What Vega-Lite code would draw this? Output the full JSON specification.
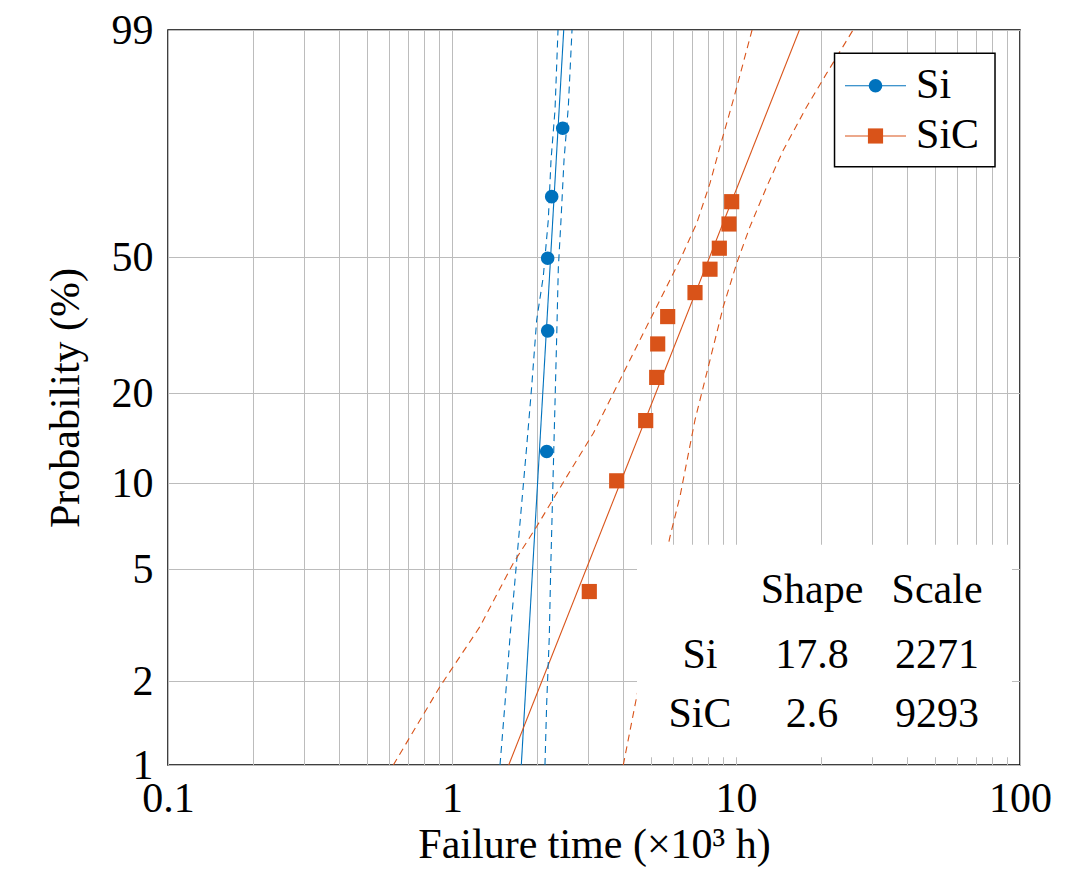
{
  "$schema": "https://vega.github.io/schema/vega-lite/v6.json",
  "width": 852,
  "height": 735,
  "autosize": {"type": "none"},
  "padding": {"left": 168, "top": 30, "right": 60, "bottom": 122},
  "background": "white",
  "config": {
    "view": {"stroke": "#000", "strokeWidth": 1.5},
    "font": "'Liberation Serif', 'DejaVu Serif', serif",
    "text": {"font": "'Liberation Serif', 'DejaVu Serif', serif"},
    "axis": {
      "labelFont": "'Liberation Serif', 'DejaVu Serif', serif",
      "titleFont": "'Liberation Serif', 'DejaVu Serif', serif",
      "labelFontSize": 42,
      "titleFontSize": 42,
      "labelColor": "#000",
      "titleColor": "#000",
      "titleFontWeight": "normal",
      "gridColor": "#bcbcbc",
      "gridWidth": 1,
      "ticks": false,
      "domain": false,
      "labelOverlap": false,
      "labelFlush": false,
      "labelBound": false
    }
  },
  "datasets": {
    "points": [
      {"series": "Si", "t": 2.155, "w": -1.987},
      {"series": "Si", "t": 2.172, "w": -0.981},
      {"series": "Si", "t": 2.172, "w": -0.376},
      {"series": "Si", "t": 2.244, "w": 0.138},
      {"series": "Si", "t": 2.454, "w": 0.708},
      {"series": "SiC", "t": 3.044, "w": -3.154},
      {"series": "SiC", "t": 3.801, "w": -2.231},
      {"series": "SiC", "t": 4.809, "w": -1.729},
      {"series": "SiC", "t": 5.257, "w": -1.369},
      {"series": "SiC", "t": 5.300, "w": -1.090},
      {"series": "SiC", "t": 5.747, "w": -0.862},
      {"series": "SiC", "t": 7.172, "w": -0.662},
      {"series": "SiC", "t": 8.099, "w": -0.467},
      {"series": "SiC", "t": 8.735, "w": -0.292},
      {"series": "SiC", "t": 9.447, "w": -0.090},
      {"series": "SiC", "t": 9.656, "w": 0.096}
    ],
    "fit": [
      {"series": "Si", "t": 1.754, "w": -4.60015},
      {"series": "Si", "t": 2.474, "w": 1.52718},
      {"series": "SiC", "t": 1.584, "w": -4.60015},
      {"series": "SiC", "t": 16.72, "w": 1.52718}
    ],
    "bounds": [
      {"series": "Si", "bound": "lower", "t": 1.476, "w": -4.60015},
      {"series": "Si", "bound": "lower", "t": 1.537, "w": -4.084},
      {"series": "Si", "bound": "lower", "t": 1.601, "w": -3.529},
      {"series": "Si", "bound": "lower", "t": 1.667, "w": -3.056},
      {"series": "Si", "bound": "lower", "t": 1.760, "w": -2.417},
      {"series": "Si", "bound": "lower", "t": 1.832, "w": -1.946},
      {"series": "Si", "bound": "lower", "t": 1.908, "w": -1.446},
      {"series": "Si", "bound": "lower", "t": 1.987, "w": -0.890},
      {"series": "Si", "bound": "lower", "t": 2.096, "w": -0.529},
      {"series": "Si", "bound": "lower", "t": 2.183, "w": -0.056},
      {"series": "Si", "bound": "lower", "t": 2.232, "w": 0.444},
      {"series": "Si", "bound": "lower", "t": 2.305, "w": 0.860},
      {"series": "Si", "bound": "lower", "t": 2.362, "w": 1.52718},
      {"series": "Si", "bound": "upper", "t": 2.125, "w": -4.60015},
      {"series": "Si", "bound": "upper", "t": 2.155, "w": -4.084},
      {"series": "Si", "bound": "upper", "t": 2.201, "w": -3.529},
      {"series": "Si", "bound": "upper", "t": 2.226, "w": -2.973},
      {"series": "Si", "bound": "upper", "t": 2.273, "w": -2.140},
      {"series": "Si", "bound": "upper", "t": 2.305, "w": -1.584},
      {"series": "Si", "bound": "upper", "t": 2.337, "w": -1.029},
      {"series": "Si", "bound": "upper", "t": 2.368, "w": -0.456},
      {"series": "Si", "bound": "upper", "t": 2.420, "w": -0.056},
      {"series": "Si", "bound": "upper", "t": 2.480, "w": 0.444},
      {"series": "Si", "bound": "upper", "t": 2.568, "w": 0.888},
      {"series": "Si", "bound": "upper", "t": 2.646, "w": 1.52718},
      {"series": "SiC", "bound": "lower", "t": 0.6214, "w": -4.60015},
      {"series": "SiC", "bound": "lower", "t": 0.9073, "w": -3.946},
      {"series": "SiC", "bound": "lower", "t": 1.2546, "w": -3.446},
      {"series": "SiC", "bound": "lower", "t": 1.644, "w": -2.917},
      {"series": "SiC", "bound": "lower", "t": 1.987, "w": -2.612},
      {"series": "SiC", "bound": "lower", "t": 2.535, "w": -2.196},
      {"series": "SiC", "bound": "lower", "t": 3.145, "w": -1.834},
      {"series": "SiC", "bound": "lower", "t": 3.905, "w": -1.390},
      {"series": "SiC", "bound": "lower", "t": 4.592, "w": -1.056},
      {"series": "SiC", "bound": "lower", "t": 5.400, "w": -0.723},
      {"series": "SiC", "bound": "lower", "t": 6.350, "w": -0.390},
      {"series": "SiC", "bound": "lower", "t": 7.272, "w": -0.084},
      {"series": "SiC", "bound": "lower", "t": 8.099, "w": 0.250},
      {"series": "SiC", "bound": "lower", "t": 8.785, "w": 0.555},
      {"series": "SiC", "bound": "lower", "t": 9.783, "w": 0.944},
      {"series": "SiC", "bound": "lower", "t": 11.39, "w": 1.52718},
      {"series": "SiC", "bound": "upper", "t": 4.010, "w": -4.60015},
      {"series": "SiC", "bound": "upper", "t": 4.471, "w": -4.029},
      {"series": "SiC", "bound": "upper", "t": 5.856, "w": -2.696},
      {"series": "SiC", "bound": "upper", "t": 6.350, "w": -2.362},
      {"series": "SiC", "bound": "upper", "t": 7.172, "w": -1.723},
      {"series": "SiC", "bound": "upper", "t": 7.885, "w": -1.334},
      {"series": "SiC", "bound": "upper", "t": 9.023, "w": -0.779},
      {"series": "SiC", "bound": "upper", "t": 10.06, "w": -0.417},
      {"series": "SiC", "bound": "upper", "t": 11.20, "w": -0.112},
      {"series": "SiC", "bound": "upper", "t": 12.83, "w": 0.221},
      {"series": "SiC", "bound": "upper", "t": 14.68, "w": 0.527},
      {"series": "SiC", "bound": "upper", "t": 17.74, "w": 0.888},
      {"series": "SiC", "bound": "upper", "t": 20.86, "w": 1.166},
      {"series": "SiC", "bound": "upper", "t": 25.83, "w": 1.52718}
    ]
  },
  "layer": [
    {
      "data": {"name": "fit"},
      "mark": {"type": "line", "strokeWidth": 1.1, "clip": true},
      "encoding": {
        "x": {
          "field": "t", "type": "quantitative",
          "scale": {"type": "log", "domain": [0.1, 100], "nice": false},
          "axis": {
            "values": [0.1, 0.2, 0.3, 0.4, 0.5, 0.6, 0.7, 0.8, 0.9, 1, 2, 3, 4, 5, 6, 7, 8, 9, 10, 20, 30, 40, 50, 60, 70, 80, 90, 100],
            "format": "~g",
            "labelExpr": "(datum.label == '0.1' || datum.label == '1' || datum.label == '10' || datum.label == '100') ? datum.label : ''",
            "labelPadding": 13,
            "title": "Failure time (×10³ h)",
            "titlePadding": 5
          }
        },
        "y": {
          "field": "w", "type": "quantitative",
          "scale": {"type": "linear", "domain": [-4.60015, 1.52718], "nice": false, "zero": false},
          "axis": {
            "values": [-4.60015, -3.90194, -2.9702, -2.25037, -1.49994, -0.36651, 1.52718],
            "labelExpr": "datum.value < -4.5 ? '1' : datum.value < -3.8 ? '2' : datum.value < -2.9 ? '5' : datum.value < -2.2 ? '10' : datum.value < -1.4 ? '20' : datum.value < 0 ? '50' : '99'",
            "labelPadding": 15,
            "title": "Probability (%)",
            "titlePadding": 24
          }
        },
        "color": {"field": "series", "type": "nominal", "scale": {"domain": ["Si", "SiC"], "range": ["#0072BD", "#D95319"]}, "legend": null},
        "detail": {"field": "series"}
      }
    },
    {
      "data": {"name": "bounds"},
      "mark": {"type": "line", "strokeWidth": 1.1, "strokeDash": [7, 5], "clip": true},
      "encoding": {
        "x": {"field": "t", "type": "quantitative"},
        "y": {"field": "w", "type": "quantitative"},
        "color": {"field": "series", "type": "nominal", "legend": null},
        "detail": [{"field": "series"}, {"field": "bound"}]
      }
    },
    {
      "data": {"name": "points"},
      "mark": {"type": "point", "filled": true, "opacity": 1},
      "encoding": {
        "x": {"field": "t", "type": "quantitative"},
        "y": {"field": "w", "type": "quantitative"},
        "color": {"field": "series", "type": "nominal", "legend": null},
        "shape": {"field": "series", "type": "nominal", "scale": {"domain": ["Si", "SiC"], "range": ["circle", "square"]}, "legend": null},
        "size": {"field": "series", "type": "nominal", "scale": {"domain": ["Si", "SiC"], "range": [185, 230]}, "legend": null}
      }
    },
    {
      "data": {"values": [{}]},
      "mark": {"type": "rect", "fill": "white", "stroke": null},
      "encoding": {
        "x": {"datum": 4.481}, "x2": {"datum": 93.7},
        "y": {"datum": -2.765}, "y2": {"datum": -4.535}
      }
    },
    {
      "data": {"values": [{}]},
      "mark": {"type": "text", "text": "Shape", "fontSize": 42, "align": "center", "baseline": "alphabetic", "font": "'Liberation Serif', 'DejaVu Serif', serif", "color": "#000"},
      "encoding": {"x": {"datum": 18.52}, "y": {"datum": -3.2505}}
    },
    {
      "data": {"values": [{}]},
      "mark": {"type": "text", "text": "Scale", "fontSize": 42, "align": "center", "baseline": "alphabetic", "font": "'Liberation Serif', 'DejaVu Serif', serif", "color": "#000"},
      "encoding": {"x": {"datum": 51.04}, "y": {"datum": -3.2505}}
    },
    {
      "data": {"values": [{}]},
      "mark": {"type": "text", "text": "Si", "fontSize": 42, "align": "center", "baseline": "alphabetic", "font": "'Liberation Serif', 'DejaVu Serif', serif", "color": "#000"},
      "encoding": {"x": {"datum": 7.468}, "y": {"datum": -3.792}}
    },
    {
      "data": {"values": [{}]},
      "mark": {"type": "text", "text": "17.8", "fontSize": 42, "align": "center", "baseline": "alphabetic", "font": "'Liberation Serif', 'DejaVu Serif', serif", "color": "#000"},
      "encoding": {"x": {"datum": 18.52}, "y": {"datum": -3.792}}
    },
    {
      "data": {"values": [{}]},
      "mark": {"type": "text", "text": "2271", "fontSize": 42, "align": "center", "baseline": "alphabetic", "font": "'Liberation Serif', 'DejaVu Serif', serif", "color": "#000"},
      "encoding": {"x": {"datum": 51.04}, "y": {"datum": -3.792}}
    },
    {
      "data": {"values": [{}]},
      "mark": {"type": "text", "text": "SiC", "fontSize": 42, "align": "center", "baseline": "alphabetic", "font": "'Liberation Serif', 'DejaVu Serif', serif", "color": "#000"},
      "encoding": {"x": {"datum": 7.468}, "y": {"datum": -4.284}}
    },
    {
      "data": {"values": [{}]},
      "mark": {"type": "text", "text": "2.6", "fontSize": 42, "align": "center", "baseline": "alphabetic", "font": "'Liberation Serif', 'DejaVu Serif', serif", "color": "#000"},
      "encoding": {"x": {"datum": 18.52}, "y": {"datum": -4.284}}
    },
    {
      "data": {"values": [{}]},
      "mark": {"type": "text", "text": "9293", "fontSize": 42, "align": "center", "baseline": "alphabetic", "font": "'Liberation Serif', 'DejaVu Serif', serif", "color": "#000"},
      "encoding": {"x": {"datum": 51.04}, "y": {"datum": -4.284}}
    },
    {
      "data": {"values": [{}]},
      "mark": {"type": "rect", "fill": "white", "stroke": "#000", "strokeWidth": 1.5},
      "encoding": {
        "x": {"datum": 22.23}, "x2": {"datum": 81.66},
        "y": {"datum": 1.333}, "y2": {"datum": 0.388}
      }
    },
    {
      "data": {"values": [{}]},
      "mark": {"type": "rule", "color": "#0072BD", "strokeWidth": 1.1},
      "encoding": {"x": {"datum": 24.2}, "x2": {"datum": 39.69}, "y": {"datum": 1.0628}}
    },
    {
      "data": {"values": [{}]},
      "mark": {"type": "rule", "color": "#D95319", "strokeWidth": 1.1},
      "encoding": {"x": {"datum": 24.2}, "x2": {"datum": 39.69}, "y": {"datum": 0.6437}}
    },
    {
      "data": {"values": [{}]},
      "mark": {"type": "point", "shape": "circle", "filled": true, "opacity": 1, "size": 185, "color": "#0072BD"},
      "encoding": {"x": {"datum": 30.99}, "y": {"datum": 1.0628}}
    },
    {
      "data": {"values": [{}]},
      "mark": {"type": "point", "shape": "square", "filled": true, "opacity": 1, "size": 230, "color": "#D95319"},
      "encoding": {"x": {"datum": 30.99}, "y": {"datum": 0.6437}}
    },
    {
      "data": {"values": [{}]},
      "mark": {"type": "text", "text": "Si", "fontSize": 42, "align": "left", "baseline": "alphabetic", "font": "'Liberation Serif', 'DejaVu Serif', serif", "color": "#000"},
      "encoding": {"x": {"datum": 43.04}, "y": {"datum": 0.958}}
    },
    {
      "data": {"values": [{}]},
      "mark": {"type": "text", "text": "SiC", "fontSize": 42, "align": "left", "baseline": "alphabetic", "font": "'Liberation Serif', 'DejaVu Serif', serif", "color": "#000"},
      "encoding": {"x": {"datum": 43.04}, "y": {"datum": 0.541}}
    }
  ]
}
